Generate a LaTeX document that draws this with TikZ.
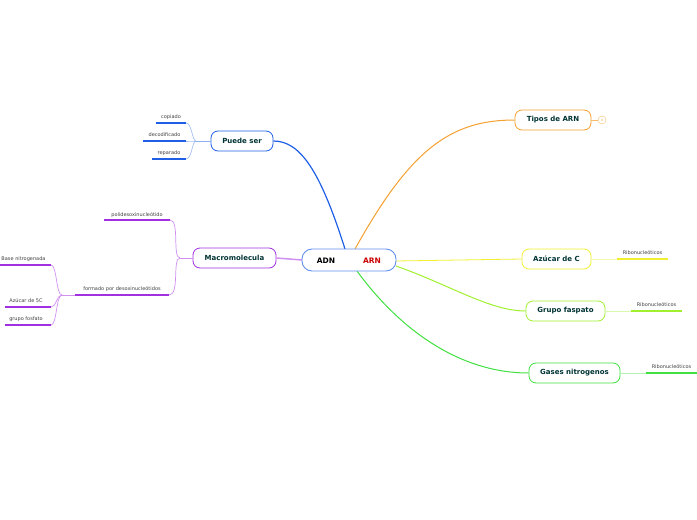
\documentclass[tikz,border=0pt]{standalone}
\usepackage{fontspec}
\setmainfont{DejaVu Sans}
\begin{document}
\begin{tikzpicture}[x=1pt,y=-1pt,
  main/.style={draw,line width=0.8pt,rounded corners=7pt,fill=white,font=\fontsize{7}{8}\selectfont\bfseries,text=teal!40!black,inner sep=0pt},
  leaf/.style={font=\fontsize{5}{6}\selectfont,text=black!75,inner sep=0pt},
  ul/.style={line width=1.3pt},
  br/.style={line width=0.7pt}]
\useasboundingbox (0,0) rectangle (697,520);
\definecolor{cblue}{HTML}{1F5FE6}\definecolor{corange}{HTML}{F5A030}
\definecolor{cyel}{HTML}{F0F030}\definecolor{cyg}{HTML}{A0F030}
\definecolor{cgreen}{HTML}{40E040}\definecolor{cpur}{HTML}{A030E0}
\definecolor{cpurl}{HTML}{D090F0}
% connectors first
\coordinate (c1) at (345,249);\coordinate (c2) at (355,249);
\coordinate (c3) at (396,261);\coordinate (c4) at (396,266);\coordinate (c5) at (357,271);
\coordinate (c6) at (302,260);
\node[main,draw=cblue,minimum width=62pt,minimum height=20pt] (ps) at (242,141) {Puede ser};
\node[main,draw=corange,minimum width=76pt,minimum height=20pt] (ta) at (553,120) {Tipos de ARN};
\node[main,draw=cyel,minimum width=69pt,minimum height=20pt] (az) at (556.5,259) {Azúcar de C};
\node[main,draw=cyg,minimum width=79pt,minimum height=20pt] (gf) at (565.5,311) {Grupo faspato};
\node[main,draw=cgreen,minimum width=91pt,minimum height=20pt] (gn) at (574.5,373) {Gases nitrogenos};
\node[main,draw=cpur,minimum width=83pt,minimum height=20pt] (mm) at (234.5,258) {Macromolecula};
\draw[cblue,line width=1.2pt] (c1) .. controls (320,170) and (300,141) .. (ps.east);
\draw[corange,line width=1pt] (c2) .. controls (410,150) and (450,120) .. (ta.west);
\draw[cyel,line width=0.8pt] (c3) -- (az.west);
\draw[cyg,line width=1pt] (c4) .. controls (450,285) and (490,311) .. (gf.west);
\draw[cgreen,line width=1pt] (c5) .. controls (400,330) and (460,373) .. (gn.west);
\draw[cpurl,line width=1.5pt] (c6) -- (mm.east);
\node[draw=corange!70,circle,minimum size=8pt,inner sep=0pt,font=\fontsize{3}{3}\selectfont,text=corange] (tc) at (602,120) {0};
\draw[corange!70] (ta.east) -- (tc);
\node[draw=cblue!70,line width=0.9pt,rounded corners=10pt,fill=white,minimum width=94pt,minimum height=22pt] (ctr) at (349,260) {};
\node[font=\fontsize{7.5}{8}\selectfont\bfseries] (adn) at (326,261) {ADN};
\node[font=\fontsize{7.5}{8}\selectfont\bfseries,text=red!80!black] (arn) at (372,261) {ARN};
% right leaves
\foreach \n/\p/\c/\a/\b/\y in {l1/az/cyel/617/668/259,l2/gf/cyg/631/682/311,l3/gn/cgreen/646/697/373}{
  \coordinate (\n a) at (\a,\y);\coordinate (\n b) at (\b,\y);
  \draw[\c!40,br] (\p.east) -- (\n a);
  \draw[\c,ul] (\n a) -- (\n b);
  \node[leaf] at ({(\a+\b)/2},\y-6) {Ribonucleóticos};}
% Puede ser leaves
\coordinate (pj) at (196,141);
\draw[cblue!50,br] (ps.west) -- (pj);
\foreach \n/\a/\y/\t in {p1/156/123/copiado,p2/143/141/decodificado,p3/152/159/reparado}{
  \coordinate (\n) at (186,\y);\coordinate (\n s) at (\a,\y);
  \draw[cblue!40,br] (pj) .. controls (192,141) and (192,\y) .. (\n);
  \draw[cblue,ul] (\n s) -- (\n);
  \node[leaf] at ({(\a+186)/2},\y-6) {\t};}
% Macromolecula leaves
\coordinate (mj) at (180,258);
\draw[cpurl,br] (mm.west) -- (mj);
\coordinate (m1) at (170,220);\coordinate (m1s) at (104,220);
\coordinate (m2) at (169,295);\coordinate (m2s) at (75,295);
\draw[cpurl,br] (mj) .. controls (172,258) and (180,220) .. (m1);
\draw[cpurl,br] (mj) .. controls (172,258) and (180,295) .. (m2);
\draw[cpur,ul] (m1s) -- (m1); \node[leaf] at (137,215) {polidesoxinucleótido};
\draw[cpur,ul] (m2s) -- (m2); \node[leaf] at (122,289) {formado por desoxinucleótidos};
\coordinate (fj) at (62,295);
\draw[cpurl,br] (m2s) -- (fj);
\foreach \n/\a/\y/\t in {f1/0/265/Base nitrogenada,f2/5/307/Azúcar de 5C,f3/5/325/grupo fosfato}{
  \coordinate (\n) at (51,\y);\coordinate (\n s) at (\a,\y);
  \draw[cpurl,br] (fj) .. controls (56,295) and (57,\y) .. (\n);
  \draw[cpur,ul] (\n s) -- (\n);
  \node[leaf] at ({(\a+51)/2-2},\y-6) {\t};}
\end{tikzpicture}
\end{document}
